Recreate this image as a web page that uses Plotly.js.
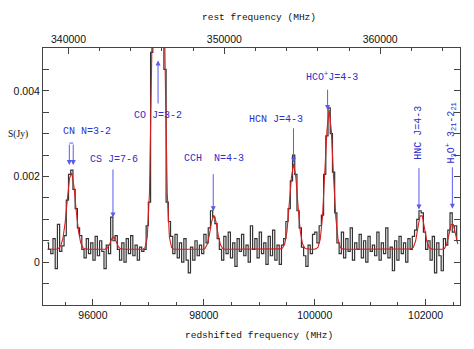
<!DOCTYPE html>
<html>
<head>
<meta charset="utf-8">
<script src="https://cdn.plot.ly/plotly-3.0.1.min.js"></script>
<style>html,body{margin:0;padding:0;background:#fff;}#chart{width:474px;height:349px;}</style>
</head>
<body>
<div id="chart"></div>
<script>
// Spectrum channels (redshifted frequency grid, MHz)
const channelStart = 95180;
const channelWidth = 40;
const redshiftFactor = 3.558; // 1+z, rest = observed * (1+z)

// Observed flux density per channel (mJy)
const flux_mJy = [
  0.45, 0.30, 0.20, 0.55, -0.15, 0.88, 0.25, 0.38, 0.62, 1.45,
  2.05, 2.15, 1.70, 1.25, 0.80, 0.62, 0.30, 0.10, 0.55, 0.20,
  0.45, 0.05, 0.60, 0.15, 0.50, 0.25, -0.15, 0.40, 0.20, 1.05,
  0.50, 0.62, 0.30, 0.05, 0.45, 0.00, 0.55, 0.20, 0.62, 0.15,
  0.40, 0.05, 0.35, 0.25, 0.30, 0.85, 1.40, 4.90, 11.0, 17.5,
  21.0, 18.3, 10.5, 4.50, 1.40, 0.95, 0.60, 0.20, 0.65, 0.10,
  0.45, 0.00, 0.55, 0.05, -0.25, 0.35, 0.05, 0.50, 0.15, 0.40,
  0.20, 0.65, 0.45, 0.80, 1.20, 1.05, 0.90, 0.55, 0.30, 0.05,
  0.60, 0.20, 0.70, 0.10, 0.45, -0.10, 0.55, 0.25, 0.65, 0.15,
  0.40, 0.00, 0.85, 0.30, 0.55, 0.10, 0.70, 0.20, 0.45, -0.05,
  0.60, 0.15, 0.75, 0.05, 0.40, -0.05, 0.40, 0.55, 0.95, 1.25,
  1.90, 2.50, 2.05, 1.20, 0.80, 0.35, 0.15, -0.10, 0.40, 0.20,
  0.65, 0.70, 0.45, 0.85, 1.10, 2.05, 2.95, 3.60, 3.00, 2.10,
  1.15, 0.45, 0.20, 0.70, 0.10, 0.55, 0.25, 0.80, 0.05, 0.45,
  0.30, 0.65, 0.10, 0.50, 0.00, 0.60, 0.25, 0.40, 0.15, 0.70,
  0.05, 0.45, 0.20, 0.80, 0.10, 0.35, -0.20, 0.50, 0.05, 0.60,
  0.20, 0.45, 0.00, 0.55, 0.30, 0.60, 0.75, 1.00, 1.20, 1.15,
  0.70, 0.30, 0.50, 0.05, 0.60, -0.25, 0.45, 0.15, -0.20, 0.55,
  0.40, 0.75, 1.15, 0.70, 0.85, 0.50
];

// Fitted model per channel (mJy)
const model_mJy = [
  0.30, 0.30, 0.30, 0.30, 0.30, 0.32, 0.38, 0.56, 0.93, 1.48,
  1.97, 2.08, 1.75, 1.19, 0.72, 0.45, 0.34, 0.31, 0.30, 0.30,
  0.30, 0.30, 0.30, 0.30, 0.30, 0.30, 0.30, 0.33, 0.41, 0.55,
  0.59, 0.48, 0.36, 0.31, 0.30, 0.30, 0.30, 0.30, 0.30, 0.30,
  0.30, 0.30, 0.30, 0.30, 0.34, 0.58, 1.62, 4.73, 10.8, 17.96,
  21.3, 17.96, 10.8, 4.73, 1.62, 0.58, 0.34, 0.30, 0.30, 0.30,
  0.30, 0.30, 0.30, 0.30, 0.30, 0.30, 0.30, 0.30, 0.30, 0.30,
  0.30, 0.32, 0.41, 0.63, 0.94, 1.10, 0.94, 0.63, 0.41, 0.32,
  0.30, 0.30, 0.30, 0.30, 0.30, 0.30, 0.30, 0.30, 0.30, 0.30,
  0.30, 0.30, 0.30, 0.30, 0.30, 0.30, 0.30, 0.30, 0.30, 0.30,
  0.30, 0.30, 0.30, 0.30, 0.30, 0.31, 0.33, 0.43, 0.72, 1.30,
  1.98, 2.30, 1.98, 1.30, 0.72, 0.43, 0.33, 0.31, 0.30, 0.30,
  0.30, 0.31, 0.35, 0.54, 1.05, 1.99, 3.06, 3.55, 3.06, 1.99,
  1.05, 0.54, 0.35, 0.31, 0.30, 0.30, 0.30, 0.30, 0.30, 0.30,
  0.30, 0.30, 0.30, 0.30, 0.30, 0.30, 0.30, 0.30, 0.30, 0.30,
  0.30, 0.30, 0.30, 0.30, 0.30, 0.30, 0.30, 0.30, 0.30, 0.30,
  0.30, 0.30, 0.30, 0.30, 0.31, 0.35, 0.50, 0.80, 1.08, 1.08,
  0.80, 0.50, 0.35, 0.31, 0.30, 0.30, 0.30, 0.30, 0.30, 0.32,
  0.42, 0.64, 0.88, 0.88, 0.64, 0.42
];

// Line identifications
const lineLabels = ["CN N=3-2", "CS J=7-6", "CO J=3-2", "CCH\u00a0\u00a0N=4-3", "HCN J=4-3",
  "HCO<sup>+</sup>J=4-3", "HNC J=4-3", "H<sub>3</sub>O<sup>+</sup> 3<sub>21</sub>-2<sub>21</sub>"];
const labelFreq = [95900, 96373, 97180, 98180, 99310, 100312, 101880, 102452];
const labelFlux = [0.00305, 0.00239, 0.00342, 0.00241, 0.00332, 0.00434, 0.00302, 0.00302];
const labelAngle = [0, 0, 0, 0, 0, 0, -90, -90];
// arrows: tail and head flux at each arrow frequency
const arrowFreq = [95575, 95645, 96362, 97175, 98170, 99617, 100232, 101880, 102482];
const arrowTail = [0.00278, 0.00278, 0.00220, 0.00367, 0.00209, 0.00316, 0.00406, 0.00223, 0.00225];
const arrowHead = [0.00227, 0.00227, 0.00104, 0.00471, 0.00119, 0.00232, 0.00355, 0.00123, 0.00125];

const freq = flux_mJy.map((_, i) => channelStart + i * channelWidth);
const flux = flux_mJy.map(v => v / 1000);
const model = model_mJy.map(v => v / 1000);
const restFreq = freq.map(f => f * redshiftFactor);

const xRange = [95100, 102620];
const blue = '#2e2ec8';
const arrowBlue = '#5a5af0';

const traces = [
  {x: freq, y: flux, type: 'scatter', mode: 'lines', line: {shape: 'hvh', color: '#333333', width: 1.2}, hoverinfo: 'skip'},
  {x: freq, y: model, type: 'scatter', mode: 'lines', line: {color: '#d42020', width: 1.1}, hoverinfo: 'skip'},
  {x: restFreq, y: flux, xaxis: 'x2', type: 'scatter', mode: 'lines', line: {width: 0, color: 'rgba(0,0,0,0)'}, hoverinfo: 'skip', showlegend: false}
];

const annotations = [];
lineLabels.forEach((t, i) => {
  annotations.push({x: labelFreq[i], y: labelFlux[i], xref: 'x', yref: 'y', text: t, showarrow: false,
    textangle: labelAngle[i], font: {family: 'Liberation Mono, monospace', size: 10, color: blue},
    xanchor: 'center', yanchor: 'middle'});
});
arrowFreq.forEach((f, i) => {
  annotations.push({x: f, y: arrowHead[i], ax: f, ay: arrowTail[i], xref: 'x', yref: 'y', axref: 'x', ayref: 'y',
    text: '', showarrow: true, arrowhead: 2, arrowsize: 1, arrowwidth: 1, arrowcolor: arrowBlue});
});
annotations.push({x: 0.518, y: -0.12, xref: 'paper', yref: 'paper', text: 'redshifted frequency (MHz)', showarrow: false,
  font: {family: 'Liberation Mono, monospace', size: 9.5, color: '#111'}, xanchor: 'center', yanchor: 'middle'});
annotations.push({x: 0.518, y: 1.117, xref: 'paper', yref: 'paper', text: 'rest frequency (MHz)', showarrow: false,
  font: {family: 'Liberation Mono, monospace', size: 9.5, color: '#111'}, xanchor: 'center', yanchor: 'middle'});
annotations.push({x: -0.061, y: 0.665, xref: 'paper', yref: 'paper', text: 'S(Jy)', showarrow: false,
  font: {family: 'Liberation Serif, serif', size: 9.5, color: '#111'}, xanchor: 'center', yanchor: 'middle'});

const axisCommon = {
  showgrid: false, zeroline: false, showline: true, linecolor: '#444', linewidth: 1,
  ticks: 'inside', ticklen: 6, tickcolor: '#444', tickwidth: 1,
  tickfont: {family: 'Liberation Sans, Arial, sans-serif', size: 10.5, color: '#111'}
};

const layout = {
  width: 474, height: 349,
  margin: {l: 43, r: 14, t: 48, b: 44},
  paper_bgcolor: '#fff', plot_bgcolor: '#fff',
  showlegend: false,
  xaxis: Object.assign({}, axisCommon, {range: xRange, dtick: 2000, tick0: 0, tickformat: 'd', mirror: true,
    minor: {dtick: 500, ticklen: 3, ticks: 'inside', tickcolor: '#444'}}),
  xaxis2: Object.assign({}, axisCommon, {overlaying: 'x', side: 'top', anchor: 'y',
    range: xRange.map(v => v * redshiftFactor), dtick: 10000, tick0: 0, tickformat: 'd',
    minor: {dtick: 2000, ticklen: 3, ticks: 'inside', tickcolor: '#444'}}),
  yaxis: Object.assign({}, axisCommon, {range: [-0.001, 0.005], dtick: 0.002, tick0: 0, mirror: 'allticks',
    minor: {dtick: 0.0005, ticklen: 3, ticks: 'inside', tickcolor: '#444'}}),
  shapes: [
    {type: 'line', xref: 'x', yref: 'y', x0: arrowFreq[0], x1: arrowFreq[1], y0: arrowTail[0], y1: arrowTail[1],
      line: {color: arrowBlue, width: 1}}
  ],
  annotations: annotations
};

Plotly.newPlot('chart', traces, layout, {staticPlot: true, displayModeBar: false});
</script>
</body>
</html>
